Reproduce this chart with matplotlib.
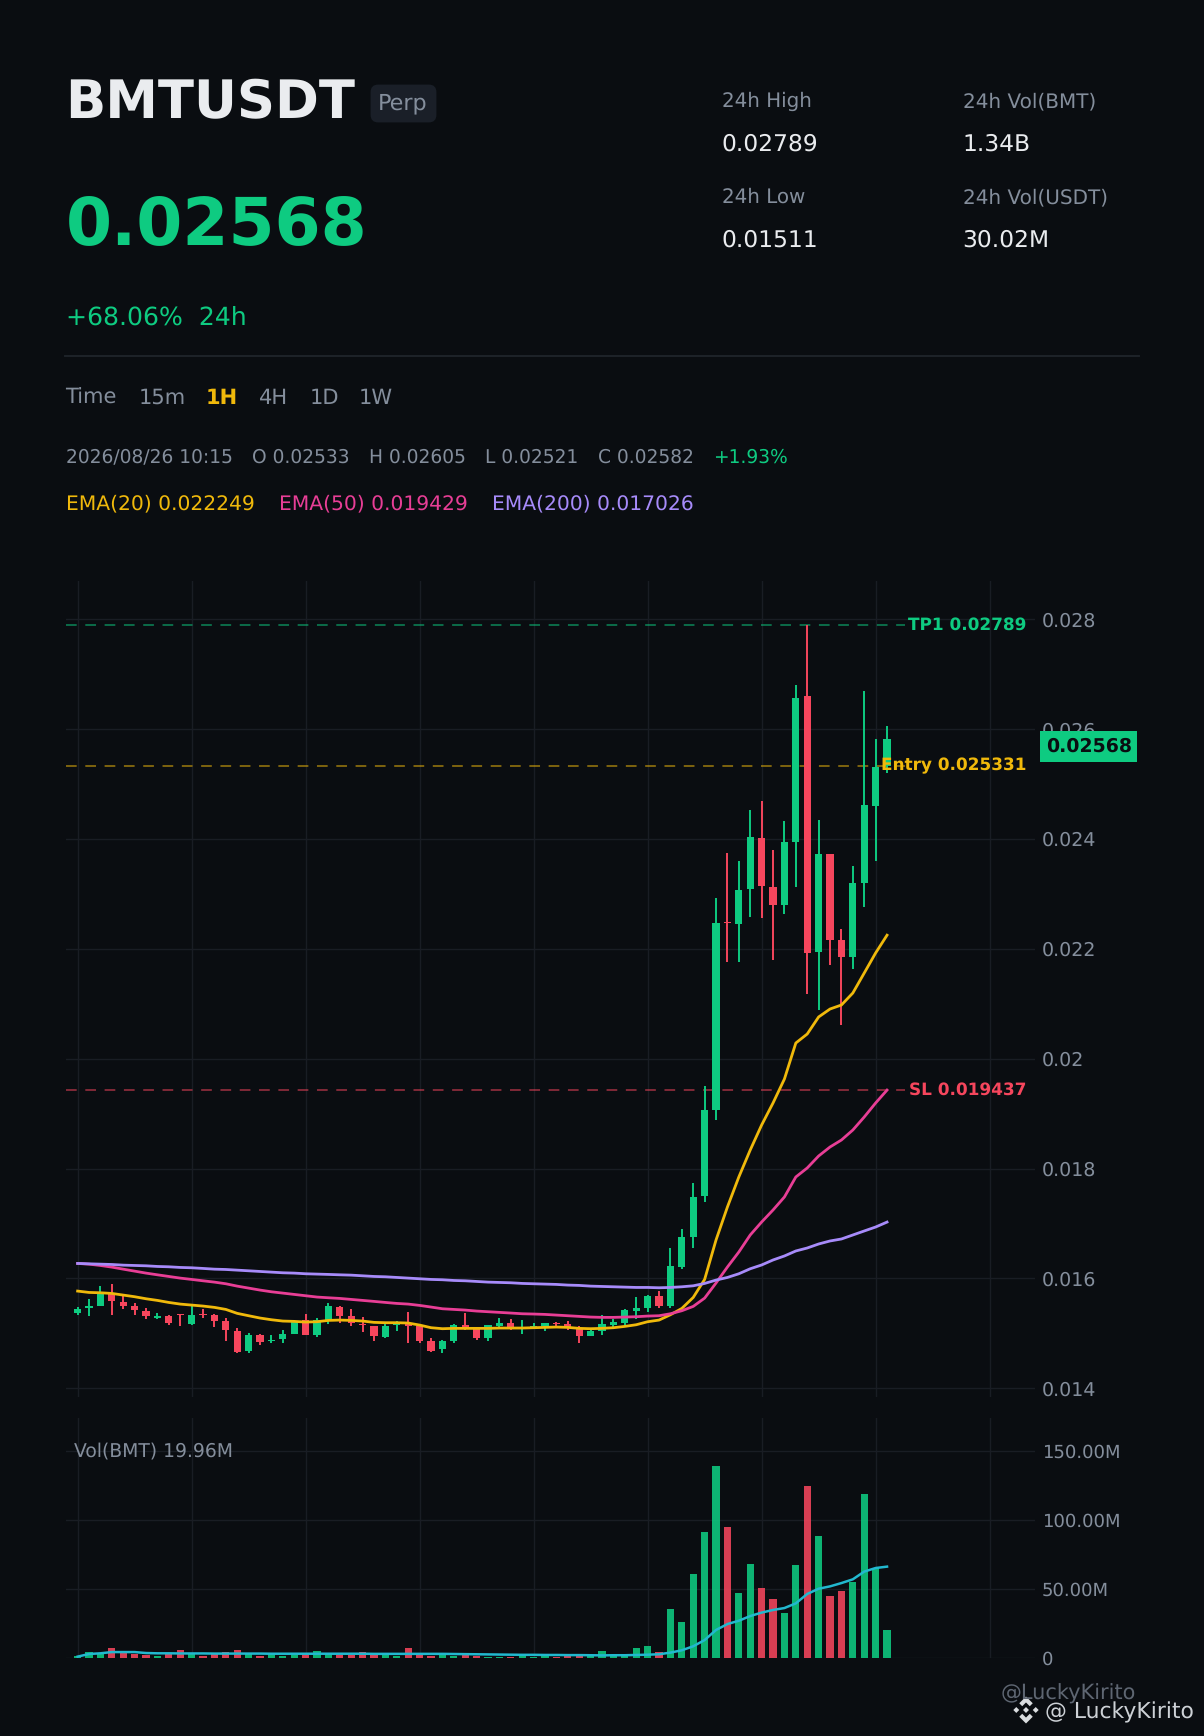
import matplotlib
matplotlib.use("Agg")
import matplotlib.pyplot as plt
from matplotlib.patches import FancyBboxPatch, Polygon, Rectangle
from matplotlib.transforms import blended_transform_factory

W, H = 1204, 1736

opens = [.015370, .015460, .015497, .015715, .015570, .015497, .015406, .015279, .015315, .015352,
         .015170, .015352, .015333, .015224, .015042, .014679, .014970, .014861, .014897, .014988,
         .015242, .014970, .015242, .015479, .015315, .015170, .015133, .014933, .015158, .015188,
         .015133, .014861, .014715, .014861, .015151, .015115, .014915, .015133, .015188, .015109,
         .015097, .015133, .015188, .015170, .015097, .014951, .015042, .015151, .015188, .015406,
         .015460, .015679, .015497, .016208, .016754, .017500, .019066, .022490, .022453, .023090,
         .024018, .023126, .022799, .023945, .026603, .021943, .023727, .022161, .021852, .023199,
         .024601, .02533]
highs = [.015479, .015624, .015860, .015897, .015679, .015552, .015460, .015370, .015333, .015352,
         .015497, .015442, .015352, .015279, .015097, .015006, .014988, .014970, .015061, .015242,
         .015352, .015279, .015552, .015497, .015442, .015297, .015133, .015170, .015224, .015388,
         .015151, .014915, .014879, .015170, .015370, .015115, .015151, .015279, .015261, .015242,
         .015188, .015188, .015206, .015224, .015133, .015097, .015333, .015261, .015442, .015661,
         .015697, .015770, .016551, .016900, .017737, .019503, .022926, .023745, .023600, .024528,
         .024692, .023800, .024328, .026804, .02789, .024346, .023727, .022362, .023509, .026695,
         .025821, .02605]
lows = [.015333, .015315, .015497, .015333, .015442, .015333, .015261, .015261, .015151, .015133,
        .015151, .015279, .015115, .014861, .014642, .014642, .014788, .014824, .014824, .014988,
        .014970, .014933, .015170, .015188, .015133, .015024, .014861, .014915, .015042, .014824,
        .014824, .014661, .014642, .014824, .015061, .014879, .014861, .015115, .015061, .014988,
        .015079, .015042, .015133, .015061, .014824, .014951, .014970, .015115, .015151, .015261,
        .015388, .015460, .015460, .016172, .016554, .017392, .018884, .021761, .021761, .022580,
        .022562, .021797, .022635, .023126, .021178, .020887, .021706, .020614, .021633, .022762,
        .023600, .02521]
closes = [.015442, .015497, .015715, .015588, .015497, .015424, .015315, .015309, .015188, .015340,
          .015333, .015333, .015224, .015061, .014661, .014970, .014842, .014885, .014988, .015224,
          .014970, .015242, .015497, .015315, .015188, .015151, .014951, .015133, .015182, .015133,
          .014861, .014679, .014861, .015151, .015097, .014915, .015151, .015188, .015079, .015121,
          .015133, .015188, .015170, .015097, .014951, .015042, .015170, .015206, .015424, .015460,
          .015679, .015497, .016224, .016754, .017483, .019066, .022471, .022465, .023072, .024036,
          .023144, .022799, .023945, .026567, .021925, .023727, .022161, .021852, .023199, .024619,
          .025311, .02582]

ema20 = [.015770, .015745, .015739, .015727, .015697, .015667, .015630, .015600, .015563, .015533,
         .015515, .015497, .015473, .015436, .015364, .015321, .015279, .015248, .015224, .015218,
         .015206, .015212, .015236, .015242, .015236, .015224, .015200, .015194, .015194, .015188,
         .015151, .015103, .015085, .015091, .015091, .015091, .015091, .015097, .015097, .015097,
         .015103, .015109, .015115, .015109, .015091, .015085, .015091, .015103, .015127, .015157,
         .015212, .015242, .015339, .015454, .015654, .015982, .016700, .017301, .017847, .018338,
         .018793, .019194, .019631, .020286, .020450, .020760, .020905, .020978, .021196, .021560,
         .021925, .022249]
ema50 = [.016273, .016260, .016236, .016206, .016169, .016133, .016097, .016066, .016036, .016006,
         .015982, .015957, .015933, .015903, .015860, .015824, .015788, .015757, .015733, .015709,
         .015685, .015661, .015648, .015636, .015618, .015600, .015582, .015563, .015545, .015533,
         .015509, .015479, .015448, .015436, .015424, .015406, .015394, .015382, .015370, .015357,
         .015352, .015345, .015333, .015321, .015309, .015297, .015291, .015291, .015297, .015303,
         .015315, .015321, .015357, .015412, .015491, .015642, .015917, .016208, .016481, .016791,
         .017027, .017246, .017483, .017847, .018011, .018229, .018393, .018520, .018702, .018939,
         .019194, .019429]
ema200 = [.016273, .016266, .016260, .016254, .016242, .016236, .016230, .016218, .016212, .016200,
          .016194, .016182, .016169, .016163, .016151, .016139, .016127, .016115, .016103, .016097,
          .016085, .016079, .016073, .016066, .016060, .016048, .016036, .016030, .016018, .016006,
          .015994, .015982, .015976, .015963, .015957, .015945, .015933, .015927, .015921, .015909,
          .015903, .015897, .015891, .015879, .015873, .015860, .015854, .015848, .015842, .015836,
          .015836, .015830, .015836, .015848, .015866, .015909, .015970, .016018, .016085, .016176,
          .016245, .016336, .016409, .016500, .016554, .016627, .016682, .016718, .016791, .016864,
          .016936, .017026]

# volume in millions
volumes = [1.4, 4.3, 2.9, 7.2, 3.4, 2.9, 2.2, 1.4, 2.9, 5.8,
           2.9, 1.4, 2.9, 4.3, 5.8, 3.4, 1.4, 2.9, 1.4, 2.2,
           2.9, 5.1, 2.9, 2.2, 2.2, 4.3, 2.9, 2.9, 1.4, 7.2,
           2.2, 1.4, 2.9, 1.4, 2.2, 1.4, 0.7, 0.7, 0.7, 2.2,
           0.7, 1.4, 0.7, 1.4, 1.4, 1.4, 5.1, 2.2, 2.2, 7.2,
           8.7, 4.3, 35.5, 26, 60.9, 91.3, 139, 94.9, 47, 68,
           50.7, 42.8, 32.6, 67.4, 124.6, 88.4, 44.9, 48.6, 55, 118.8,
           65.2, 19.96]
vol_ma = [1.0, 2.9, 3.4, 4.3, 4.3, 4.3, 3.6,
          3.4, 3.4, 3.3, 3.3, 3.3, 3.2, 3.2, 3.2, 3.2, 3.2, 3.1, 3.1, 3.1, 3.1, 3.1, 3.1, 3.1, 3.1,
          3.1, 3.0, 3.0, 3.0, 3.0, 3.0, 3.0, 3.0, 2.9,
          2.8, 2.7, 2.6, 2.5, 2.4, 2.3, 2.3, 2.2, 2.2, 2.1, 2.1, 2.0,
          1.9, 2.0, 2.0, 2.2, 2.4, 2.7, 3.9, 5.6, 8.5, 13, 20.3, 24.6, 27, 30.4, 32.9, 34.8, 36.2,
          39.6, 46.4, 50.2, 51.9, 54.3, 57, 62.6, 65.2, 66.2]

price_ticks = [0.014, 0.016, 0.018, 0.02, 0.022, 0.024, 0.026, 0.028]
price_tick_labels = ["0.014", "0.016", "0.018", "0.02", "0.022", "0.024", "0.026", "0.028"]
vol_ticks = [0, 50, 100, 150]
vol_tick_labels = ["0", "50.00M", "100.00M", "150.00M"]
levels = [0.02789, 0.025331, 0.019437]
level_labels = ["TP1 0.02789", "Entry 0.025331", "SL 0.019437"]
last_price = 0.02568

BG = "#0A0D11"
GREEN = "#0ECB81"
RED = "#F6465D"
GOLD = "#F0B90B"
PINK = "#E83E96"
PURPLE = "#A78BFA"
CYAN = "#22B8CF"
GRAY = "#848E9C"
WHITE = "#EAECEF"
GRID = "#191D24"
level_colors = [GREEN, GOLD, RED]

plt.rcParams["font.family"] = "DejaVu Sans"
plt.rcParams["lines.scale_dashes"] = False
plt.rcParams["text.hinting"] = "no_hinting"

fig = plt.figure(figsize=(W / 100, H / 100), dpi=100, facecolor=BG)


def put(x, y, s, size, color=GRAY, weight="normal", **kw):
    return fig.text(x / W, 1 - y / H, s, fontsize=size, color=color, weight=weight,
                    va="baseline", ha="left", **kw)


def panel(left, top, right, bottom, tick_size):
    ax = fig.add_axes([left / W, 1 - bottom / H, (right - left) / W, (bottom - top) / H])
    ax.set_facecolor(BG)
    for s in ax.spines.values():
        s.set_visible(False)
    ax.set_xticks([i + 0.06 for i in range(0, 90, 10)])
    ax.set_xticklabels([])
    ax.yaxis.tick_right()
    ax.tick_params(axis="both", length=0, labelsize=tick_size, labelcolor=GRAY, pad=4.8)
    ax.grid(True, color=GRID, lw=1.0)
    ax.set_axisbelow(True)
    ax.set_xlim(-1.02, 83.98)
    return ax


# header
put(65.5, 118.5, "BMTUSDT", 38.1, WHITE, "bold")
fig.add_artist(FancyBboxPatch((372 / W, 1 - 121 / H), 63 / W, 35 / H, transform=fig.transFigure,
                              boxstyle="round,pad=0,rounding_size=0.005", mutation_aspect=W / H,
                              fc="#1A1F28", ec="#1A1F28", lw=2))
put(378, 109, "Perp", 16, GRAY)
put(66, 245, "0.02568", 47.7, GREEN, "bold")
put(66, 325, "+68.06%  24h", 18.05, GREEN)

put(722, 107, "24h High", 14.3)
put(721.5, 151, "0.02789", 16.85, WHITE)
put(722, 203, "24h Low", 14.3)
put(721.5, 246.5, "0.01511", 16.85, WHITE)
put(963, 107, "24h Vol(BMT)", 14.4)
put(962.5, 151, "1.34B", 16.85, WHITE)
put(963, 203, "24h Vol(USDT)", 14.4)
put(962.5, 246.5, "30.02M", 16.85, WHITE)

fig.add_artist(plt.Line2D([65 / W, 1139 / W], [1 - 356 / H, 1 - 356 / H], color="#1E2329", lw=1.4))

for x, s in zip([65.5, 139, 206, 259, 310, 359], ["Time", "15m", "1H", "4H", "1D", "1W"]):
    if s == "1H":
        put(x, 403.5, s, 15.1, GOLD, "bold")
    else:
        put(x, 403.5, s, 15.1)

for x, s in zip([66, 252, 369, 485, 598],
                ["2026/08/26 10:15", "O 0.02533", "H 0.02605", "L 0.02521", "C 0.02582"]):
    put(x, 462.5, s, 13.45)
put(713, 462.5, "+1.93%", 13.45, GREEN)

put(66, 509.5, "EMA(20) 0.022249", 14.6, GOLD)
put(279, 509.5, "EMA(50) 0.019429", 14.6, PINK)
put(492, 509.5, "EMA(200) 0.017026", 14.6, PURPLE)

# price panel
ax = panel(66, 581, 1035, 1396.7, 13.7)
ax.set_ylim(0.013847, 0.028697)
ax.set_yticks(price_ticks)
ax.set_yticklabels(price_tick_labels, va="center_baseline")

x = list(range(len(closes)))
colors = [GREEN if c >= o else RED for o, c in zip(opens, closes)]
tr = blended_transform_factory(ax.transAxes, ax.transData)

for lv, lb, col in zip(levels, level_labels, level_colors):
    ax.axhline(lv, xmin=0, xmax=0.866, color=col, alpha=0.5, lw=1.4,
               linestyle=(0, (7.7, 6.2)), zorder=1)

ax.vlines(x, lows, highs, colors=colors, lw=1.4, zorder=2)
ax.bar(x, [abs(c - o) for o, c in zip(opens, closes)], bottom=[min(o, c) for o, c in zip(opens, closes)],
       width=0.62, color=colors, zorder=3)

ax.plot(x, ema20, color=GOLD, lw=2.0, zorder=4)
ax.plot(x, ema50, color=PINK, lw=2.0, zorder=4)
ax.plot(x, ema200, color=PURPLE, lw=2.0, zorder=4)

for lv, lb, col in zip(levels, level_labels, level_colors):
    ax.text(0.9907, lv, lb, transform=tr, ha="right", va="center", color=col, fontsize=12.2,
            weight="bold", zorder=6)

ax.add_patch(Rectangle((1 + 5 / 969, last_price - 0.000282), 97 / 969, 0.000564, transform=tr,
                       fc=GREEN, ec="none", clip_on=False, zorder=7))
ax.text(1 + 54 / 969, last_price, "0.02568", transform=tr, ha="center", va="center",
        color="#0A0D11", fontsize=13.6, weight="bold", zorder=8, clip_on=False)

# volume panel
vax = panel(66, 1418, 1035, 1658, 13.0)
vax.set_ylim(0, 173.9)
vax.set_yticks(vol_ticks)
vax.set_yticklabels(vol_tick_labels, va="center_baseline")
vax.bar(x, volumes, width=0.62, color=colors, alpha=0.88, zorder=3)
vax.plot(x, vol_ma, color=CYAN, lw=1.8, zorder=4)
put(74, 1456.5, "Vol(BMT) 19.96M", 13.5)

# watermarks
put(1001, 1700, "@LuckyKirito", 15, "#5E6672")
put(1045, 1718, "@ LuckyKirito", 15.75, "#CDD1D6")

cx, cy = 1026, 1710
r = 13.5
logo = [
    [(0, -1), (0.5, -0.5), (0.28, -0.28), (0, -0.56), (-0.28, -0.28), (-0.5, -0.5)],
    [(0, 1), (0.5, 0.5), (0.28, 0.28), (0, 0.56), (-0.28, 0.28), (-0.5, 0.5)],
    [(0, -0.22), (0.22, 0), (0, 0.22), (-0.22, 0)],
    [(-0.72, -0.22), (-0.5, 0), (-0.72, 0.22), (-0.94, 0)],
    [(0.72, -0.22), (0.94, 0), (0.72, 0.22), (0.5, 0)],
]
for pts in logo:
    fig.add_artist(Polygon([((cx + r * a) / W, 1 - (cy + r * b) / H) for a, b in pts],
                           transform=fig.transFigure, fc="#DADDE0", ec="none"))

fig.savefig("out.png", dpi=100, facecolor=BG)
